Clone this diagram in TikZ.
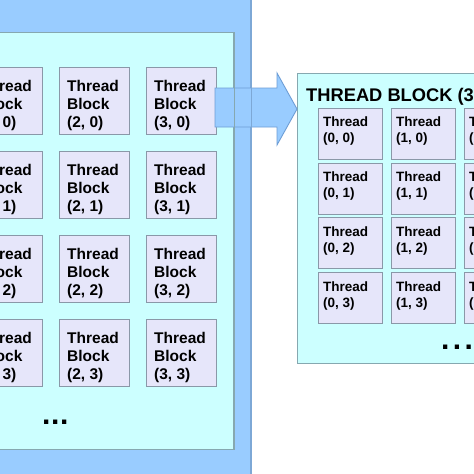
\documentclass[tikz,border=0pt]{standalone}
\usepackage{fontspec}
\setmainfont{Liberation Sans}
\definecolor{outerfill}{HTML}{99CCFF}
\definecolor{outerline}{HTML}{7DA8D6}
\definecolor{innerfill}{HTML}{CCFFFF}
\definecolor{innerline}{HTML}{86A8B0}
\definecolor{boxfill}{HTML}{E6E6FA}
\definecolor{boxline}{HTML}{8A98A8}
\definecolor{arrowfill}{HTML}{99CCFF}
\definecolor{arrowline}{HTML}{6E9ED6}
\tikzset{
  blockbox/.style={draw=boxline, fill=boxfill, line width=0.9pt, anchor=north west,
    minimum width=70pt, minimum height=67pt, inner sep=0pt},
  blocktext/.style={anchor=north west, inner sep=0pt, align=left,
    font=\fontsize{15.5}{18}\selectfont\bfseries},
  threadbox/.style={draw=boxline, fill=boxfill, line width=0.9pt, anchor=north west,
    minimum width=64pt, minimum height=51pt, inner sep=0pt},
  threadtext/.style={anchor=north west, inner sep=0pt, align=left,
    font=\fontsize{13.5}{16}\selectfont\bfseries},
  dotstext/.style={anchor=base west, inner sep=0pt, font=\fontsize{30}{30}\selectfont\bfseries},
}
\begin{document}
\begin{tikzpicture}[x=1pt,y=-1pt]
\useasboundingbox (0,0) rectangle (474,474);
\begin{scope}
\clip (0,0) rectangle (474,474);
\fill[white] (0,0) rectangle (474,474);
% outer grid panel
\node[draw=outerline, fill=outerfill, line width=1pt, anchor=north west,
  minimum width=270pt, minimum height=500pt, inner sep=0pt] (outer) at (-20,-20) {};
% inner grid panel
\node[draw=innerline, fill=innerfill, line width=1pt, anchor=north west,
  minimum width=273pt, minimum height=417pt, inner sep=0pt] (inner) at (-40,32) {};
% thread blocks
\foreach \c in {1,2,3}{
  \foreach \r in {0,1,2,3}{
    \node[blockbox] (b\c\r) at ({-28+87*(\c-1)},{67+84*\r}) {};
    \node[blocktext] (t\c\r) at ([shift={(8pt,-13pt)}]b\c\r.north west) {Thread\\Block\\(\c, \r)};
  }
}
\node[dotstext] (gdots) at (42,424) {.\kern0.6pt.\kern0.6pt.};
% right panel
\node[draw=innerline, fill=innerfill, line width=1pt, anchor=north west,
  minimum width=240pt, minimum height=290pt, inner sep=0pt] (blk) at (297,73) {};
% block arrow
\filldraw[draw=arrowline, fill=arrowfill, line width=0.9pt, line join=miter]
  (215,88) -- (277,88) -- (277,73) -- (blk.west |- 0,109) -- (277,145) -- (277,127) -- (215,127) -- cycle;
% redraw panel edges over the arrow
\draw[innerline, line width=1pt] (inner.north east) -- (inner.south east);
\draw[outerline, line width=1pt] (outer.north east) -- (outer.south east);
\node[anchor=north west, inner sep=0pt, font=\fontsize{18.3}{20}\selectfont\bfseries] (title) at (306,88) {THREAD BLOCK (3, 0)};
% threads
\foreach \c in {0,1,2}{
  \foreach \r in {0,1,2,3}{
    \node[threadbox] (h\c\r) at ({318+73*\c},{108+54.7*\r}) {};
    \node[threadtext] (ht\c\r) at ([shift={(5pt,-9pt)}]h\c\r.north west) {Thread\\(\c, \r)};
  }
}
\node[dotstext] (tdots) at (441,349) {.\kern3.4pt.\kern3.4pt.};
\end{scope}
\end{tikzpicture}
\end{document}
